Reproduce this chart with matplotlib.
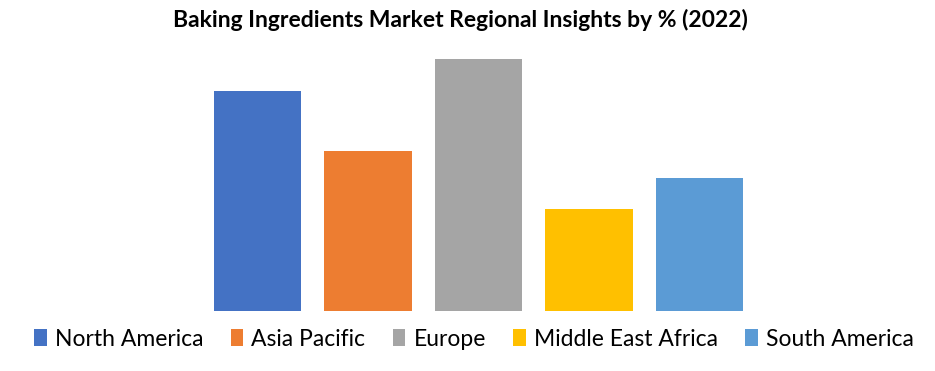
import matplotlib.pyplot as plt
from matplotlib.patches import Patch

regions = ['North America', 'Asia Pacific', 'Europe', 'Middle East Africa', 'South America']
shares = [26.2, 19.0, 30.0, 12.1, 15.8]
colors = ['#4472C4', '#ED7D31', '#A5A5A5', '#FFC000', '#5B9BD5']

W, H = 935, 371
fig = plt.figure(figsize=(W / 100, H / 100), dpi=100)
ax = fig.add_axes([202 / W, 60 / H, (755 - 202) / W, (311 - 59) / H])

ax.bar(range(len(regions)), shares, width=0.79, color=colors)
ax.set_xlim(-0.5, len(regions) - 0.5)
ax.set_ylim(0, 30)
ax.axis('off')

fig.text(460 / W, 1 - 20 / H, 'Baking Ingredients Market Regional Insights by % (2022)',
         ha='center', va='center', fontsize=16.5, fontweight='bold', family='Lato')

handles = [Patch(facecolor=c, label=r) for c, r in zip(colors, regions)]
fig.legend(handles=handles, loc='center', bbox_to_anchor=(474 / W, 1 - 339 / H), ncol=5,
           frameon=False, prop={'family': 'Lato', 'size': 16.5},
           handlelength=0.55, handleheight=0.8, handletextpad=0.35, columnspacing=1.2)

fig.savefig('out.png', dpi=100)
